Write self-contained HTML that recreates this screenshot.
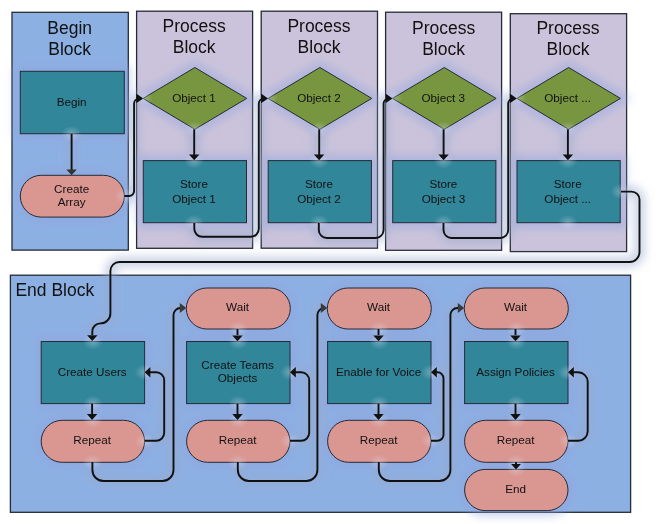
<!DOCTYPE html>
<html><head><meta charset="utf-8">
<style>
html,body{margin:0;padding:0;background:#fff;width:660px;height:524px;overflow:hidden}
svg{display:block;will-change:transform}
text{font-family:"Liberation Sans",sans-serif;fill:#111}
</style></head><body>
<svg width="660" height="524" viewBox="0 0 660 524">
<defs>
<filter id="glow" x="-50%" y="-50%" width="200%" height="200%"><feGaussianBlur stdDeviation="5"/></filter>
<filter id="sglow" x="-30%" y="-30%" width="160%" height="160%"><feGaussianBlur stdDeviation="5"/></filter>
<radialGradient id="spot"><stop offset="0" stop-color="#dfe6f7" stop-opacity="0.35"/><stop offset="1" stop-color="#dfe6f7" stop-opacity="0"/></radialGradient>
</defs>
<rect x="12.0" y="12.3" width="116.3" height="237.8" fill="#8DB0E3" stroke="#252b35" stroke-width="1.3"/>
<rect x="136.6" y="11.2" width="116.0" height="237.1" fill="#CBC3DB" stroke="#252b35" stroke-width="1.3"/>
<rect x="261.2" y="11.2" width="116.3" height="237.0" fill="#CBC3DB" stroke="#252b35" stroke-width="1.3"/>
<rect x="385.6" y="12.2" width="116.0" height="238.1" fill="#CBC3DB" stroke="#252b35" stroke-width="1.3"/>
<rect x="510.3" y="13.7" width="116.3" height="237.9" fill="#CBC3DB" stroke="#252b35" stroke-width="1.3"/>
<rect x="10.4" y="275.2" width="620.2" height="237.1" fill="#8DB0E3" stroke="#252b35" stroke-width="1.3"/>
<g>
<rect x="20.3" y="71.3" width="104.0" height="62.4" rx="0.0" fill="none" stroke="#8fa3dd" stroke-width="11" stroke-opacity="0.5" filter="url(#sglow)"/>
<rect x="20.3" y="175.3" width="104.0" height="41.8" rx="20.9" fill="none" stroke="#8fa3dd" stroke-width="11" stroke-opacity="0.5" filter="url(#sglow)"/>
<polygon points="143.1,98.4 194.9,67.5 246.7,98.4 194.9,129.3" fill="none" stroke="#8fa3dd" stroke-width="11" stroke-opacity="0.5" filter="url(#sglow)"/>
<rect x="143.3" y="160.6" width="103.2" height="62.1" rx="0.0" fill="none" stroke="#8fa3dd" stroke-width="11" stroke-opacity="0.5" filter="url(#sglow)"/>
<polygon points="268.1,98.4 319.9,67.5 371.7,98.4 319.9,129.3" fill="none" stroke="#8fa3dd" stroke-width="11" stroke-opacity="0.5" filter="url(#sglow)"/>
<rect x="268.2" y="160.6" width="103.2" height="62.1" rx="0.0" fill="none" stroke="#8fa3dd" stroke-width="11" stroke-opacity="0.5" filter="url(#sglow)"/>
<polygon points="392.5,98.4 444.3,67.5 496.1,98.4 444.3,129.3" fill="none" stroke="#8fa3dd" stroke-width="11" stroke-opacity="0.5" filter="url(#sglow)"/>
<rect x="392.7" y="160.6" width="103.2" height="62.1" rx="0.0" fill="none" stroke="#8fa3dd" stroke-width="11" stroke-opacity="0.5" filter="url(#sglow)"/>
<polygon points="516.8,98.4 568.6,67.5 620.4,98.4 568.6,129.3" fill="none" stroke="#8fa3dd" stroke-width="11" stroke-opacity="0.5" filter="url(#sglow)"/>
<rect x="517.0" y="160.6" width="103.2" height="62.1" rx="0.0" fill="none" stroke="#8fa3dd" stroke-width="11" stroke-opacity="0.5" filter="url(#sglow)"/>
<rect x="41.2" y="341.5" width="103.4" height="62.1" rx="0.0" fill="none" stroke="#8fa3dd" stroke-width="11" stroke-opacity="0.5" filter="url(#sglow)"/>
<rect x="41.2" y="420.3" width="103.4" height="42.0" rx="21.0" fill="none" stroke="#8fa3dd" stroke-width="11" stroke-opacity="0.5" filter="url(#sglow)"/>
<rect x="186.3" y="288.0" width="104.0" height="41.0" rx="20.5" fill="none" stroke="#8fa3dd" stroke-width="11" stroke-opacity="0.5" filter="url(#sglow)"/>
<rect x="186.6" y="341.5" width="103.4" height="62.1" rx="0.0" fill="none" stroke="#8fa3dd" stroke-width="11" stroke-opacity="0.5" filter="url(#sglow)"/>
<rect x="186.6" y="420.3" width="103.4" height="42.0" rx="21.0" fill="none" stroke="#8fa3dd" stroke-width="11" stroke-opacity="0.5" filter="url(#sglow)"/>
<rect x="327.3" y="288.0" width="104.0" height="41.0" rx="20.5" fill="none" stroke="#8fa3dd" stroke-width="11" stroke-opacity="0.5" filter="url(#sglow)"/>
<rect x="327.6" y="341.5" width="103.4" height="62.1" rx="0.0" fill="none" stroke="#8fa3dd" stroke-width="11" stroke-opacity="0.5" filter="url(#sglow)"/>
<rect x="327.6" y="420.3" width="103.4" height="42.0" rx="21.0" fill="none" stroke="#8fa3dd" stroke-width="11" stroke-opacity="0.5" filter="url(#sglow)"/>
<rect x="464.3" y="288.0" width="104.0" height="41.0" rx="20.5" fill="none" stroke="#8fa3dd" stroke-width="11" stroke-opacity="0.5" filter="url(#sglow)"/>
<rect x="464.6" y="341.5" width="103.4" height="62.1" rx="0.0" fill="none" stroke="#8fa3dd" stroke-width="11" stroke-opacity="0.5" filter="url(#sglow)"/>
<rect x="464.6" y="420.3" width="103.4" height="42.0" rx="21.0" fill="none" stroke="#8fa3dd" stroke-width="11" stroke-opacity="0.5" filter="url(#sglow)"/>
<rect x="464.6" y="469.4" width="103.4" height="41.2" rx="20.6" fill="none" stroke="#8fa3dd" stroke-width="11" stroke-opacity="0.5" filter="url(#sglow)"/>
</g>
<g fill="none" stroke="#98a8cc" stroke-width="10" stroke-opacity="0.55" filter="url(#glow)">
<path d="M71.6,133.7 V170"/>
<path d="M124.3,196 H129 A5,5 0 0 0 134.1,191 V103.6 A5,5 0 0 1 139,98.6 H138"/>
<path d="M194.2,129.3 V155"/>
<path d="M319.2,129.3 V155"/>
<path d="M443.6,129.3 V155"/>
<path d="M567.9,129.3 V155"/>
<path d="M194.3,223 V228.8 A8,8 0 0 0 202.3,236.8 H250.8 A8,8 0 0 0 258.8,228.8 V103.6 A5,5 0 0 1 263.8,98.6 H263.1"/>
<path d="M318.8,223 V230.0 A8,8 0 0 0 326.8,238.0 H375.6 A8,8 0 0 0 383.6,230.0 V103.6 A5,5 0 0 1 388.6,98.6 H387.5"/>
<path d="M443.5,223 V230.0 A8,8 0 0 0 451.5,238.0 H500.2 A8,8 0 0 0 508.2,230.0 V103.6 A5,5 0 0 1 513.2,98.6 H511.8"/>
<path d="M621,191.6 H631.5 A8,8 0 0 1 639.5,199.6 V252 A10,10 0 0 1 629.5,262 H119.4 A9,9 0 0 0 110.4,271 V313.4 A10,10 0 0 1 100.4,323.4 A8,8 0 0 0 92.3,331.4 V335"/>
<path d="M92.1,403.6 V414"/>
<path d="M237.5,329 V335"/>
<path d="M237.5,403.6 V414"/>
<path d="M378.5,329 V335"/>
<path d="M378.5,403.6 V414"/>
<path d="M515.5,329 V335"/>
<path d="M515.5,403.6 V414"/>
<path d="M144.6,440.8 H156.2 A8.0,8.0 0 0 0 164.2,432.8 V380.3 A8.0,8.0 0 0 0 156.2,372.3 H149.6"/>
<path d="M290.0,440.8 H301.2 A8.0,8.0 0 0 0 309.2,432.8 V380.3 A8.0,8.0 0 0 0 301.2,372.3 H295.0"/>
<path d="M431.0,440.8 H437.5 A6.0,6.0 0 0 0 443.5,434.8 V378.3 A6.0,6.0 0 0 0 437.5,372.3 H436.0"/>
<path d="M568.0,440.8 H578.2 A9.5,9.5 0 0 0 587.7,431.3 V381.8 A9.5,9.5 0 0 0 578.2,372.3 H573.0"/>
<path d="M92.4,462 V470.0 A11.0,11.0 0 0 0 103.4,481.0 H162.5 A11.0,11.0 0 0 0 173.5,470.0 V315.0 A7,7 0 0 1 180.5,308 H181.3"/>
<path d="M237.8,462 V470.0 A11.0,11.0 0 0 0 248.8,481.0 H306.4 A11.0,11.0 0 0 0 317.4,470.0 V315.0 A7,7 0 0 1 324.4,308 H322.3"/>
<path d="M378.8,462 V470.0 A11.0,11.0 0 0 0 389.8,481.0 H439.4 A11.0,11.0 0 0 0 450.4,470.0 V315.0 A7,7 0 0 1 457.4,308 H459.3"/>
<path d="M516.0,462 V465"/>
</g>
<rect x="20.3" y="71.3" width="104.0" height="62.4" rx="0.0" fill="#31869A" stroke="#252b35" stroke-width="1.0"/>
<rect x="20.3" y="175.3" width="104.0" height="41.8" rx="20.9" fill="#DA9691" stroke="#252b35" stroke-width="1.0"/>
<polygon points="143.1,98.4 194.9,67.5 246.7,98.4 194.9,129.3" fill="#77963F" stroke="#252b35" stroke-width="1.0"/>
<rect x="143.3" y="160.6" width="103.2" height="62.1" rx="0.0" fill="#31869A" stroke="#252b35" stroke-width="1.0"/>
<polygon points="268.1,98.4 319.9,67.5 371.7,98.4 319.9,129.3" fill="#77963F" stroke="#252b35" stroke-width="1.0"/>
<rect x="268.2" y="160.6" width="103.2" height="62.1" rx="0.0" fill="#31869A" stroke="#252b35" stroke-width="1.0"/>
<polygon points="392.5,98.4 444.3,67.5 496.1,98.4 444.3,129.3" fill="#77963F" stroke="#252b35" stroke-width="1.0"/>
<rect x="392.7" y="160.6" width="103.2" height="62.1" rx="0.0" fill="#31869A" stroke="#252b35" stroke-width="1.0"/>
<polygon points="516.8,98.4 568.6,67.5 620.4,98.4 568.6,129.3" fill="#77963F" stroke="#252b35" stroke-width="1.0"/>
<rect x="517.0" y="160.6" width="103.2" height="62.1" rx="0.0" fill="#31869A" stroke="#252b35" stroke-width="1.0"/>
<rect x="41.2" y="341.5" width="103.4" height="62.1" rx="0.0" fill="#31869A" stroke="#252b35" stroke-width="1.0"/>
<rect x="41.2" y="420.3" width="103.4" height="42.0" rx="21.0" fill="#DA9691" stroke="#252b35" stroke-width="1.0"/>
<rect x="186.3" y="288.0" width="104.0" height="41.0" rx="20.5" fill="#DA9691" stroke="#252b35" stroke-width="1.0"/>
<rect x="186.6" y="341.5" width="103.4" height="62.1" rx="0.0" fill="#31869A" stroke="#252b35" stroke-width="1.0"/>
<rect x="186.6" y="420.3" width="103.4" height="42.0" rx="21.0" fill="#DA9691" stroke="#252b35" stroke-width="1.0"/>
<rect x="327.3" y="288.0" width="104.0" height="41.0" rx="20.5" fill="#DA9691" stroke="#252b35" stroke-width="1.0"/>
<rect x="327.6" y="341.5" width="103.4" height="62.1" rx="0.0" fill="#31869A" stroke="#252b35" stroke-width="1.0"/>
<rect x="327.6" y="420.3" width="103.4" height="42.0" rx="21.0" fill="#DA9691" stroke="#252b35" stroke-width="1.0"/>
<rect x="464.3" y="288.0" width="104.0" height="41.0" rx="20.5" fill="#DA9691" stroke="#252b35" stroke-width="1.0"/>
<rect x="464.6" y="341.5" width="103.4" height="62.1" rx="0.0" fill="#31869A" stroke="#252b35" stroke-width="1.0"/>
<rect x="464.6" y="420.3" width="103.4" height="42.0" rx="21.0" fill="#DA9691" stroke="#252b35" stroke-width="1.0"/>
<rect x="464.6" y="469.4" width="103.4" height="41.2" rx="20.6" fill="#DA9691" stroke="#252b35" stroke-width="1.0"/>
<ellipse cx="71.6" cy="133.7" rx="10" ry="8" fill="url(#spot)"/>
<ellipse cx="124.3" cy="196.0" rx="10" ry="8" fill="url(#spot)"/>
<ellipse cx="143.2" cy="98.4" rx="10" ry="8" fill="url(#spot)"/>
<ellipse cx="194.2" cy="129.3" rx="10" ry="8" fill="url(#spot)"/>
<ellipse cx="194.2" cy="160.6" rx="10" ry="8" fill="url(#spot)"/>
<ellipse cx="194.1" cy="222.7" rx="10" ry="8" fill="url(#spot)"/>
<ellipse cx="319.2" cy="129.3" rx="10" ry="8" fill="url(#spot)"/>
<ellipse cx="319.2" cy="160.6" rx="10" ry="8" fill="url(#spot)"/>
<ellipse cx="319.1" cy="222.7" rx="10" ry="8" fill="url(#spot)"/>
<ellipse cx="443.6" cy="129.3" rx="10" ry="8" fill="url(#spot)"/>
<ellipse cx="443.6" cy="160.6" rx="10" ry="8" fill="url(#spot)"/>
<ellipse cx="443.5" cy="222.7" rx="10" ry="8" fill="url(#spot)"/>
<ellipse cx="567.9" cy="129.3" rx="10" ry="8" fill="url(#spot)"/>
<ellipse cx="567.9" cy="160.6" rx="10" ry="8" fill="url(#spot)"/>
<ellipse cx="567.8" cy="222.7" rx="10" ry="8" fill="url(#spot)"/>
<ellipse cx="268.1" cy="98.4" rx="10" ry="8" fill="url(#spot)"/>
<ellipse cx="392.5" cy="98.4" rx="10" ry="8" fill="url(#spot)"/>
<ellipse cx="516.8" cy="98.4" rx="10" ry="8" fill="url(#spot)"/>
<ellipse cx="620.8" cy="191.6" rx="10" ry="8" fill="url(#spot)"/>
<ellipse cx="92.9" cy="341.5" rx="10" ry="8" fill="url(#spot)"/>
<ellipse cx="92.9" cy="403.6" rx="10" ry="8" fill="url(#spot)"/>
<ellipse cx="92.9" cy="420.3" rx="10" ry="8" fill="url(#spot)"/>
<ellipse cx="92.4" cy="462.3" rx="10" ry="8" fill="url(#spot)"/>
<ellipse cx="144.6" cy="372.3" rx="10" ry="8" fill="url(#spot)"/>
<ellipse cx="144.6" cy="440.8" rx="10" ry="8" fill="url(#spot)"/>
<ellipse cx="238.3" cy="341.5" rx="10" ry="8" fill="url(#spot)"/>
<ellipse cx="238.3" cy="403.6" rx="10" ry="8" fill="url(#spot)"/>
<ellipse cx="238.3" cy="420.3" rx="10" ry="8" fill="url(#spot)"/>
<ellipse cx="237.8" cy="462.3" rx="10" ry="8" fill="url(#spot)"/>
<ellipse cx="290.0" cy="372.3" rx="10" ry="8" fill="url(#spot)"/>
<ellipse cx="290.0" cy="440.8" rx="10" ry="8" fill="url(#spot)"/>
<ellipse cx="238.3" cy="329.0" rx="10" ry="8" fill="url(#spot)"/>
<ellipse cx="379.3" cy="341.5" rx="10" ry="8" fill="url(#spot)"/>
<ellipse cx="379.3" cy="403.6" rx="10" ry="8" fill="url(#spot)"/>
<ellipse cx="379.3" cy="420.3" rx="10" ry="8" fill="url(#spot)"/>
<ellipse cx="378.8" cy="462.3" rx="10" ry="8" fill="url(#spot)"/>
<ellipse cx="431.0" cy="372.3" rx="10" ry="8" fill="url(#spot)"/>
<ellipse cx="431.0" cy="440.8" rx="10" ry="8" fill="url(#spot)"/>
<ellipse cx="379.3" cy="329.0" rx="10" ry="8" fill="url(#spot)"/>
<ellipse cx="516.3" cy="341.5" rx="10" ry="8" fill="url(#spot)"/>
<ellipse cx="516.3" cy="403.6" rx="10" ry="8" fill="url(#spot)"/>
<ellipse cx="516.3" cy="420.3" rx="10" ry="8" fill="url(#spot)"/>
<ellipse cx="515.8" cy="462.3" rx="10" ry="8" fill="url(#spot)"/>
<ellipse cx="568.0" cy="372.3" rx="10" ry="8" fill="url(#spot)"/>
<ellipse cx="568.0" cy="440.8" rx="10" ry="8" fill="url(#spot)"/>
<ellipse cx="516.3" cy="329.0" rx="10" ry="8" fill="url(#spot)"/>
<ellipse cx="516.3" cy="468.8" rx="10" ry="8" fill="url(#spot)"/>
<g fill="none" stroke="#111" stroke-width="1.9">
<path d="M71.6,133.7 V170"/>
<path d="M124.3,196 H129 A5,5 0 0 0 134.1,191 V103.6 A5,5 0 0 1 139,98.6 H138"/>
<path d="M194.2,129.3 V155"/>
<path d="M319.2,129.3 V155"/>
<path d="M443.6,129.3 V155"/>
<path d="M567.9,129.3 V155"/>
<path d="M194.3,223 V228.8 A8,8 0 0 0 202.3,236.8 H250.8 A8,8 0 0 0 258.8,228.8 V103.6 A5,5 0 0 1 263.8,98.6 H263.1"/>
<path d="M318.8,223 V230.0 A8,8 0 0 0 326.8,238.0 H375.6 A8,8 0 0 0 383.6,230.0 V103.6 A5,5 0 0 1 388.6,98.6 H387.5"/>
<path d="M443.5,223 V230.0 A8,8 0 0 0 451.5,238.0 H500.2 A8,8 0 0 0 508.2,230.0 V103.6 A5,5 0 0 1 513.2,98.6 H511.8"/>
<path d="M621,191.6 H631.5 A8,8 0 0 1 639.5,199.6 V252 A10,10 0 0 1 629.5,262 H119.4 A9,9 0 0 0 110.4,271 V313.4 A10,10 0 0 1 100.4,323.4 A8,8 0 0 0 92.3,331.4 V335"/>
<path d="M92.1,403.6 V414"/>
<path d="M237.5,329 V335"/>
<path d="M237.5,403.6 V414"/>
<path d="M378.5,329 V335"/>
<path d="M378.5,403.6 V414"/>
<path d="M515.5,329 V335"/>
<path d="M515.5,403.6 V414"/>
<path d="M144.6,440.8 H156.2 A8.0,8.0 0 0 0 164.2,432.8 V380.3 A8.0,8.0 0 0 0 156.2,372.3 H149.6"/>
<path d="M290.0,440.8 H301.2 A8.0,8.0 0 0 0 309.2,432.8 V380.3 A8.0,8.0 0 0 0 301.2,372.3 H295.0"/>
<path d="M431.0,440.8 H437.5 A6.0,6.0 0 0 0 443.5,434.8 V378.3 A6.0,6.0 0 0 0 437.5,372.3 H436.0"/>
<path d="M568.0,440.8 H578.2 A9.5,9.5 0 0 0 587.7,431.3 V381.8 A9.5,9.5 0 0 0 578.2,372.3 H573.0"/>
<path d="M92.4,462 V470.0 A11.0,11.0 0 0 0 103.4,481.0 H162.5 A11.0,11.0 0 0 0 173.5,470.0 V315.0 A7,7 0 0 1 180.5,308 H181.3"/>
<path d="M237.8,462 V470.0 A11.0,11.0 0 0 0 248.8,481.0 H306.4 A11.0,11.0 0 0 0 317.4,470.0 V315.0 A7,7 0 0 1 324.4,308 H322.3"/>
<path d="M378.8,462 V470.0 A11.0,11.0 0 0 0 389.8,481.0 H439.4 A11.0,11.0 0 0 0 450.4,470.0 V315.0 A7,7 0 0 1 457.4,308 H459.3"/>
<path d="M516.0,462 V465"/>
</g>
<polygon points="71.60,175.30 66.40,169.50 76.80,169.50" fill="#333"/>
<polygon points="143.20,98.40 136.20,93.50 136.20,103.30" fill="#111"/>
<polygon points="194.20,160.30 189.00,154.50 199.40,154.50" fill="#111"/>
<polygon points="319.15,160.30 313.95,154.50 324.35,154.50" fill="#111"/>
<polygon points="443.60,160.30 438.40,154.50 448.80,154.50" fill="#111"/>
<polygon points="567.90,160.30 562.70,154.50 573.10,154.50" fill="#111"/>
<polygon points="268.05,98.40 261.05,93.50 261.05,103.30" fill="#111"/>
<polygon points="392.50,98.40 385.50,93.50 385.50,103.30" fill="#111"/>
<polygon points="516.80,98.40 509.80,93.50 509.80,103.30" fill="#111"/>
<polygon points="92.30,341.00 87.10,335.20 97.50,335.20" fill="#111"/>
<polygon points="92.10,419.90 86.90,414.10 97.30,414.10" fill="#111"/>
<polygon points="237.50,341.20 232.30,335.40 242.70,335.40" fill="#111"/>
<polygon points="237.50,419.90 232.30,414.10 242.70,414.10" fill="#111"/>
<polygon points="378.50,341.20 373.30,335.40 383.70,335.40" fill="#111"/>
<polygon points="378.50,419.90 373.30,414.10 383.70,414.10" fill="#111"/>
<polygon points="515.50,341.20 510.30,335.40 520.70,335.40" fill="#111"/>
<polygon points="515.50,419.90 510.30,414.10 520.70,414.10" fill="#111"/>
<polygon points="144.60,372.30 150.40,367.10 150.40,377.50" fill="#111"/>
<polygon points="290.00,372.30 295.80,367.10 295.80,377.50" fill="#111"/>
<polygon points="431.00,372.30 436.80,367.10 436.80,377.50" fill="#111"/>
<polygon points="568.00,372.30 573.80,367.10 573.80,377.50" fill="#111"/>
<polygon points="186.30,308.00 179.80,303.00 179.80,313.00" fill="#3a3a3a"/>
<polygon points="327.30,308.00 320.80,303.00 320.80,313.00" fill="#3a3a3a"/>
<polygon points="464.30,308.00 457.80,303.00 457.80,313.00" fill="#3a3a3a"/>
<polygon points="516.00,469.40 511.10,463.90 520.90,463.90" fill="#111"/>
<text x="69.7" y="33.9" font-size="17.5" text-anchor="middle">Begin</text>
<text x="69.7" y="54.7" font-size="17.5" text-anchor="middle">Block</text>
<text x="194.2" y="32.0" font-size="17.5" text-anchor="middle">Process</text>
<text x="194.2" y="52.9" font-size="17.5" text-anchor="middle">Block</text>
<text x="319.0" y="32.0" font-size="17.5" text-anchor="middle">Process</text>
<text x="319.0" y="52.9" font-size="17.5" text-anchor="middle">Block</text>
<text x="443.6" y="33.8" font-size="17.5" text-anchor="middle">Process</text>
<text x="443.6" y="54.7" font-size="17.5" text-anchor="middle">Block</text>
<text x="568.0" y="34.4" font-size="17.5" text-anchor="middle">Process</text>
<text x="568.0" y="55.3" font-size="17.5" text-anchor="middle">Block</text>
<text x="15.4" y="296.1" font-size="17.5" text-anchor="start">End Block</text>
<text x="71.6" y="106.0" font-size="11.7" text-anchor="middle">Begin</text>
<text x="71.6" y="192.8" font-size="11.7" text-anchor="middle">Create</text>
<text x="71.6" y="206.3" font-size="11.7" text-anchor="middle">Array</text>
<text x="193.9" y="101.8" font-size="11.7" text-anchor="middle">Object 1</text>
<text x="194.0" y="188.3" font-size="11.7" text-anchor="middle">Store</text>
<text x="194.0" y="202.7" font-size="11.7" text-anchor="middle">Object 1</text>
<text x="318.9" y="101.8" font-size="11.7" text-anchor="middle">Object 2</text>
<text x="319.0" y="188.3" font-size="11.7" text-anchor="middle">Store</text>
<text x="319.0" y="202.7" font-size="11.7" text-anchor="middle">Object 2</text>
<text x="443.3" y="101.8" font-size="11.7" text-anchor="middle">Object 3</text>
<text x="443.4" y="188.3" font-size="11.7" text-anchor="middle">Store</text>
<text x="443.4" y="202.7" font-size="11.7" text-anchor="middle">Object 3</text>
<text x="567.6" y="101.8" font-size="11.7" text-anchor="middle">Object ...</text>
<text x="567.7" y="188.3" font-size="11.7" text-anchor="middle">Store</text>
<text x="567.7" y="202.7" font-size="11.7" text-anchor="middle">Object ...</text>
<text x="92.2" y="376.2" font-size="11.7" text-anchor="middle">Create Users</text>
<text x="92.2" y="444.2" font-size="11.7" text-anchor="middle">Repeat</text>
<text x="237.6" y="311.4" font-size="11.7" text-anchor="middle">Wait</text>
<text x="237.6" y="444.2" font-size="11.7" text-anchor="middle">Repeat</text>
<text x="378.6" y="311.4" font-size="11.7" text-anchor="middle">Wait</text>
<text x="378.6" y="376.2" font-size="11.7" text-anchor="middle">Enable for Voice</text>
<text x="378.6" y="444.2" font-size="11.7" text-anchor="middle">Repeat</text>
<text x="515.6" y="311.4" font-size="11.7" text-anchor="middle">Wait</text>
<text x="515.6" y="376.2" font-size="11.7" text-anchor="middle">Assign Policies</text>
<text x="515.6" y="444.2" font-size="11.7" text-anchor="middle">Repeat</text>
<text x="237.6" y="368.8" font-size="11.7" text-anchor="middle">Create Teams</text>
<text x="237.6" y="382.3" font-size="11.7" text-anchor="middle">Objects</text>
<text x="515.6" y="493.0" font-size="11.7" text-anchor="middle">End</text>
</svg>
</body></html>
